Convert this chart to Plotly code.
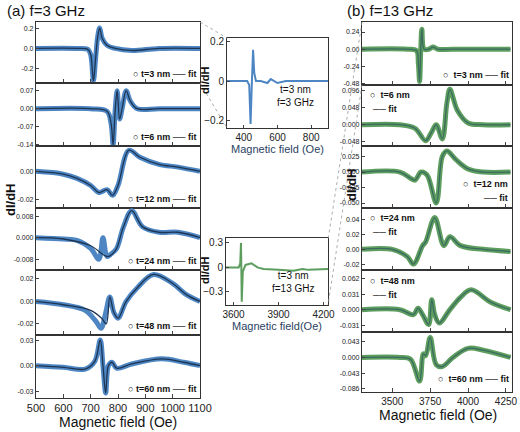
import plotly.graph_objects as go

W, H = 520, 432

# ---- f=3 GHz panels (field in Oe, dI/dH) ----
a_x = [
    [500, 650, 690, 700, 710, 718, 726, 733, 742, 760, 790, 850, 950, 1100],
    [500, 700, 760, 775, 782, 790, 797, 806, 815, 830, 845, 870, 950, 1100],
    [500, 600, 650, 700, 730, 760, 780, 800, 840, 880, 950, 1020, 1100],
    [500, 600, 650, 700, 730, 745, 760, 775, 795, 820, 850, 890, 950, 1020, 1100],
    [500, 600, 680, 720, 738, 755, 770, 785, 800, 830, 870, 930, 1000, 1050, 1100],
    [500, 600, 680, 715, 735, 745, 755, 765, 778, 795, 850, 960, 1040, 1100],
]
a_y = [
    [0, 0, -0.01, -0.06, -0.32, -0.1, 0.12, 0.2, 0.1, 0.03, 0.0, -0.02, 0.0, 0.0],
    [0, 0, -0.01, -0.06, -0.14, 0.0, 0.07, -0.04, 0.0, 0.07, 0.03, 0.0, 0.0, 0.0],
    [0, -0.002, -0.005, -0.01, -0.015, -0.013, -0.017, -0.01, 0.015, 0.01, 0.005, 0.003, 0.0],
    [0, -0.0005, -0.001, -0.004, -0.008, 0.0, -0.007, -0.006, -0.004, 0.004, 0.01, 0.004, 0.002, 0.002, 0.0],
    [0, -0.003, -0.008, -0.018, -0.024, -0.01, 0.004, -0.01, -0.015, 0.0, 0.012, 0.024, 0.016, 0.006, 0.0],
    [0, -0.002, -0.004, 0.005, 0.03, 0.0, -0.032, 0.0, 0.004, -0.003, 0.002, 0.008, 0.004, 0.0],
]
# fits that deviate from the data (24 nm, 48 nm)
a_fit_x = {3: [500, 600, 700, 760, 780, 795, 820, 850, 890, 950, 1020, 1100],
           4: [500, 600, 700, 740, 757, 770, 785, 800, 830, 870, 930, 1000, 1050, 1100]}
a_fit_y = {3: [0, -0.0005, -0.003, -0.007, -0.006, -0.004, 0.004, 0.01, 0.004, 0.002, 0.002, 0.0],
           4: [0, -0.003, -0.008, -0.015, -0.02, 0.004, -0.01, -0.015, 0.0, 0.012, 0.024, 0.016, 0.006, 0.0]}
a_range = [[-0.34, 0.26], [-0.145, 0.1], [-0.026, 0.018], [-0.012, 0.011], [-0.03, 0.028], [-0.038, 0.036]]
a_ticks = [[-0.2, 0.0, 0.2], [-0.14, -0.07, 0.0, 0.07], [-0.02, 0.0], [-0.008, 0.0, 0.008],
           [-0.02, 0.0, 0.02], [-0.03, 0.0, 0.03]]
a_labels = [["-0.2", "0.0", "0.2"], ["-0.14", "-0.07", "0.00", "0.07"], ["-0.02", "0.00"],
            ["-0.008", "0.000", "0.008"], ["-0.02", "0.00", "0.02"], ["-0.03", "0.00", "0.03"]]
thick = ["3", "6", "12", "24", "48", "60"]

# ---- f=13 GHz panels ----
b_x = [
    [3300, 3600, 3660, 3672, 3680, 3688, 3695, 3710, 3740, 3770, 3800, 3900, 4280],
    [3300, 3550, 3650, 3720, 3760, 3790, 3830, 3860, 3880, 3930, 4000, 4100, 4280],
    [3300, 3550, 3620, 3650, 3690, 3730, 3790, 3830, 3860, 3920, 4000, 4100, 4280],
    [3300, 3500, 3600, 3640, 3700, 3720, 3780, 3840, 3880, 3950, 4100, 4280],
    [3300, 3550, 3640, 3670, 3700, 3740, 3760, 3780, 3810, 3880, 3950, 4020, 4150, 4280],
    [3300, 3550, 3620, 3680, 3705, 3720, 3750, 3790, 3830, 3900, 4000, 4100, 4280],
]
b_y = [
    [0, 0, -0.02, -0.2, -0.45, 0.0, 0.28, 0.0, 0.0, 0.03, 0.0, 0.0, 0.0],
    [0, 0, -0.01, -0.045, -0.02, 0.0, -0.04, 0.06, 0.1, 0.04, 0.005, 0.0, 0.0],
    [0, 0, -0.01, -0.013, 0.0, -0.005, -0.05, 0.025, 0.034, 0.02, 0.005, 0.0, 0.0],
    [0, 0, -0.01, -0.02, 0.005, 0.01, 0.043, 0.005, 0.017, 0.005, 0.0, -0.003],
    [0, 0, -0.01, 0.003, -0.01, -0.03, 0.02, -0.01, -0.027, 0.0, 0.025, 0.04, 0.015, 0.0],
    [0, 0, -0.005, -0.065, 0.01, 0.005, 0.055, -0.02, -0.025, 0.0, 0.025, 0.02, 0.0],
]
b_range = [[-0.5, 0.38], [-0.06, 0.112], [-0.058, 0.042], [-0.028, 0.056], [-0.045, 0.08], [-0.095, 0.07]]
b_ticks = [[-0.48, -0.24, 0.0, 0.24], [-0.048, 0.0, 0.048, 0.096], [-0.05, -0.025, 0.0, 0.025],
           [-0.02, 0.0, 0.02, 0.04], [-0.031, 0.0, 0.031, 0.062], [-0.086, -0.043, 0.0, 0.043]]
b_labels = [["-0.48", "-0.24", "0.00", "0.24"], ["-0.048", "0.000", "0.048", "0.096"],
            ["-0.050", "-0.025", "0.000", "0.025"], ["-0.02", "0.00", "0.02", "0.04"],
            ["-0.031", "0.000", "0.031", "0.062"], ["-0.086", "-0.043", "0.000", "0.043"]]

# ---- insets ----
in1_x = [300, 420, 432, 440, 448, 455, 462, 472, 500, 540, 560, 600, 650, 700, 900]
in1_y = [0, 0, -0.02, -0.22, 0.0, 0.16, 0.04, 0.0, 0.0, -0.01, 0.01, -0.01, 0.0, 0.0, 0.0]
in2_x = [3550, 3635, 3645, 3650, 3655, 3662, 3680, 3720, 3760, 3800, 3900, 4000, 4060, 4100, 4230]
in2_y = [0, 0, 0.05, 0.3, -0.42, -0.05, 0.03, 0.05, 0.0, -0.02, -0.03, -0.04, -0.02, -0.03, -0.02]

BLUE, BLUE_FIT = "#4e86c4", "#1d3552"
GREEN, GREEN_FIT = "#5d9e5f", "#3a6a60"
FONT = "Liberation Sans"

fig = go.Figure()
axes = {}


def dom_x(x0, x1):
    return [x0 / W, x1 / W]


def dom_y(y0, y1):
    return [1 - y1 / H, 1 - y0 / H]


def add_panel(n, xs, ys, fx, fy, col, fcol, xd, yd, xr, yr, tv, tt, showx, xt):
    xa, ya = f"x{n}", f"y{n}"
    fig.add_trace(go.Scatter(x=xs, y=ys, mode="lines", line=dict(color=col, width=5, shape="spline"),
                             xaxis=xa, yaxis=ya, showlegend=False))
    fig.add_trace(go.Scatter(x=fx, y=fy, mode="lines", line=dict(color=fcol, width=1.3, shape="spline"),
                             xaxis=xa, yaxis=ya, showlegend=False))
    axes[f"xaxis{n}"] = dict(domain=xd, range=xr, anchor=ya, showline=True, mirror=True,
                             linecolor="#333", linewidth=1.2, ticks="inside", ticklen=4,
                             tickvals=xt, showticklabels=showx, showgrid=False, zeroline=False,
                             automargin=False, tickangle=0,
                             tickfont=dict(family=FONT, size=11, color="#222"))
    axes[f"yaxis{n}"] = dict(domain=yd, range=yr, anchor=xa, showline=True, mirror=True,
                             linecolor="#333", linewidth=1.2, ticks="inside", ticklen=3,
                             tickvals=tv, ticktext=tt, showgrid=False, zeroline=False,
                             automargin=False,
                             tickfont=dict(family=FONT, size=7, color="#222"))


a_rows = [(22, 83), (83, 146), (146, 208), (208, 270), (270, 335), (335, 398)]
b_rows = [(22, 85), (85, 146), (146, 208), (208, 270), (270, 332), (332, 392)]
n = 1
for i in range(6):
    fx = a_fit_x.get(i, a_x[i])
    fy = a_fit_y.get(i, a_y[i])
    add_panel(n, a_x[i], a_y[i], fx, fy, BLUE, BLUE_FIT, dom_x(36, 200), dom_y(*a_rows[i]),
              [500, 1100], a_range[i], a_ticks[i], a_labels[i], i == 5,
              [500, 600, 700, 800, 900, 1000, 1100])
    n += 1
for i in range(6):
    add_panel(n, b_x[i], b_y[i], b_x[i], b_y[i], GREEN, GREEN_FIT, dom_x(362, 512), dom_y(*b_rows[i]),
              [3300, 4290], b_range[i], b_ticks[i], b_labels[i], i == 5, [3500, 3750, 4000, 4250])
    n += 1
axes["xaxis12"]["tickfont"]["size"] = 10

# insets
for xs, ys, col, xd, yd, xr, yr, tv, xt, xtitle in [
    (in1_x, in1_y, BLUE, dom_x(227, 328), dom_y(38, 128), [300, 900], [-0.24, 0.22],
     [-0.2, 0.0, 0.2], [400, 600, 800], "Magnetic field (Oe)"),
    (in2_x, in2_y, GREEN, dom_x(226, 328), dom_y(238, 305), [3550, 4230], [-0.46, 0.36],
     [-0.3, 0.0, 0.3], [3600, 3900, 4200], "Magnetic field(Oe)"),
]:
    fig.add_trace(go.Scatter(x=xs, y=ys, mode="lines", line=dict(color=col, width=2),
                             xaxis=f"x{n}", yaxis=f"y{n}", showlegend=False))
    axes[f"xaxis{n}"] = dict(domain=xd, range=xr, anchor=f"y{n}", showline=True, mirror=True,
                             linecolor="#333", ticks="inside", ticklen=3, tickvals=xt,
                             showgrid=False, zeroline=False, automargin=False,
                             tickfont=dict(family=FONT, size=10, color="#222"),
                             title=dict(text=xtitle, font=dict(family=FONT, size=11), standoff=0))
    axes[f"yaxis{n}"] = dict(domain=yd, range=yr, anchor=f"x{n}", showline=True, mirror=True,
                             linecolor="#333", ticks="inside", ticklen=3, tickvals=tv,
                             showgrid=False, zeroline=False, automargin=False,
                             tickfont=dict(family=FONT, size=10, color="#222"))
    n += 1

ann = []


def txt(x, y, s, size=9, bold=True, anchor="left", angle=0):
    ann.append(dict(x=x / W, y=1 - y / H, xref="paper", yref="paper", showarrow=False,
                    text=f"<b>{s}</b>" if bold else s, xanchor=anchor, yanchor="middle",
                    textangle=angle, font=dict(family=FONT, size=size, color="#111")))


for i, r in enumerate(a_rows):
    txt(198, r[1] - 9, f"○ t={thick[i]} nm ── fit", anchor="right")
b_leg = [(511, 75, "○  t=3 nm ── fit", "right"), (368, 95, "○  t=6 nm", "left"), (370, 109, "── fit", "left"),
         (510, 184, "○  t=12 nm", "right"), (510, 198, "── fit", "right"), (368, 218, "○  t=24 nm", "left"),
         (370, 232, "── fit", "left"), (368, 281, "○  t=48 nm", "left"), (370, 295, "── fit", "left"),
         (511, 379, "○  t=60 nm ── fit", "right")]
for x, y, s, a in b_leg:
    txt(x, y, s, anchor=a)
txt(5, 11, "(a) f=3 GHz", size=15, bold=False)
txt(345, 11, "(b) f=13 GHz", size=15, bold=False)
txt(118, 422, "Magnetic field (Oe)", size=14, bold=False, anchor="center")
txt(438, 415, "Magnetic field (Oe)", size=14, bold=False, anchor="center")
txt(10, 200, "dI/dH", size=13, anchor="center", angle=-90)
txt(352, 185, "dI/dH", size=13, anchor="center", angle=-90)
txt(205, 80, "dI/dH", size=11, anchor="center", angle=-90)
txt(205, 270, "dI/dH", size=11, anchor="center", angle=-90)
txt(275, 96, "t=3 nm<br>f=3 GHz", size=10, bold=False)
txt(270, 282, "t=3 nm<br>f=13 GHz", size=10, bold=False)

shapes = []
for x0, y0, x1, y1 in [(200, 22, 227, 38), (200, 83, 227, 128), (362, 22, 328, 240), (362, 85, 328, 305)]:
    shapes.append(dict(type="line", xref="paper", yref="paper", x0=x0 / W, y0=1 - y0 / H,
                       x1=x1 / W, y1=1 - y1 / H, line=dict(color="#999", width=0.8, dash="dot")))

fig.update_layout(width=W, height=H, margin=dict(l=0, r=0, t=0, b=0), plot_bgcolor="white",
                  paper_bgcolor="white", annotations=ann, shapes=shapes, **axes)
fig.write_html("out.html", config={"displayModeBar": False},
               post_script="document.body.style.margin='0';document.body.style.overflow='hidden';")
